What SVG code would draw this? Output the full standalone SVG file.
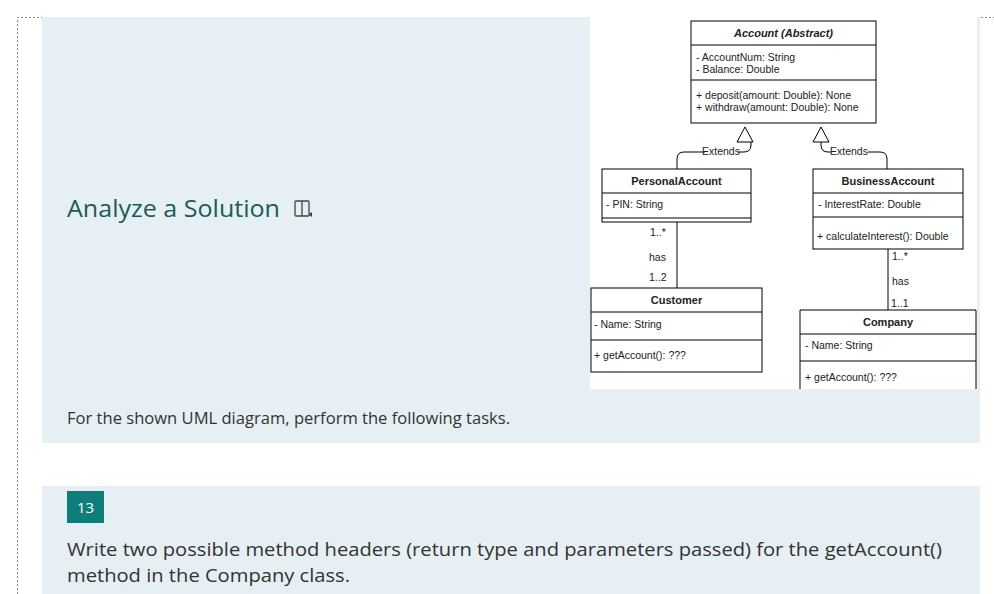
<svg xmlns="http://www.w3.org/2000/svg" width="994" height="594" viewBox="0 0 994 594">
<style>
.b{fill:#fff;stroke:#000;stroke-width:1}
.l{stroke:#000;stroke-width:1;fill:none}
.t{font-family:"Liberation Sans",Arial,sans-serif;font-size:10.5px;fill:#222}
.h{font-family:"Liberation Sans",Arial,sans-serif;font-size:11px;font-weight:bold;fill:#222;text-anchor:middle}
.p{font-family:"Open Sans","Noto Sans",sans-serif}
</style>
<rect width="994" height="594" fill="#fff"/>
<path d="M17.5 594V17.5H994" fill="none" stroke="#888" stroke-dasharray="2,2"/>
<rect x="42" y="17" width="938" height="426" fill="#e6eff3"/>
<rect x="590" y="17" width="387" height="372" fill="#fff"/>
<text x="67" y="217" class="p" font-size="24" fill="#1d5a5c" textLength="213" lengthAdjust="spacingAndGlyphs">Analyze a Solution</text>
<g fill="none" stroke="#444" stroke-width="1.3"><rect x="295" y="201" width="14" height="15" rx="1"/><path d="M302 201v15"/></g>
<path d="M309 214l3-2v5l-3-2z" fill="#444"/>
<text x="67" y="424" class="p" font-size="15.5" fill="#333" textLength="443" lengthAdjust="spacingAndGlyphs">For the shown UML diagram, perform the following tasks.</text>
<rect x="42" y="486" width="938" height="108" fill="#e6eff3"/>
<rect x="67" y="491" width="37" height="32" fill="#0f7e7a"/>
<text x="85.5" y="513" class="p" font-size="15" fill="#fff" text-anchor="middle">13</text>
<text x="67" y="556" class="p" font-size="19" fill="#333" textLength="875" lengthAdjust="spacingAndGlyphs">Write two possible method headers (return type and parameters passed) for the getAccount()</text>
<text x="67" y="582" class="p" font-size="19" fill="#333" textLength="283" lengthAdjust="spacingAndGlyphs">method in the Company class.</text>

<g id="connectors">
<path class="l" d="M677 169v-10q0-7 7-7h60q7 0 7-7v-3"/>
<path class="l" d="M821 142v3q0 7 7 7h52q7 0 7 7v10"/>
<polygon points="745,127 737,142 753,142" class="b"/>
<polygon points="821,127 813,142 829,142" class="b"/>
<rect x="705" y="147" width="33" height="10" fill="#fff"/>
<text x="721" y="155" class="t" font-size="9" text-anchor="middle">Extends</text>
<rect x="831" y="147" width="37" height="10" fill="#fff"/>
<text x="849" y="155" class="t" font-size="9" text-anchor="middle">Extends</text>
<path class="l" d="M677 222v66"/>
<text x="650" y="236" class="t">1..*</text>
<text x="649" y="261" class="t">has</text>
<text x="649" y="281" class="t">1..2</text>
<path class="l" d="M888 249v61"/>
<text x="892" y="260" class="t">1..*</text>
<text x="892" y="285" class="t">has</text>
<text x="891" y="307" class="t">1..1</text>
</g>

<g id="account">
<rect x="691" y="21" width="185" height="102" class="b"/>
<path class="l" d="M691 45h185M691 80h185"/>
<text x="783.5" y="37" class="h" font-style="italic">Account (Abstract)</text>
<text x="696" y="61" class="t">- AccountNum: String</text>
<text x="696" y="73" class="t">- Balance: Double</text>
<text x="696" y="99" class="t">+ deposit(amount: Double): None</text>
<text x="696" y="111" class="t">+ withdraw(amount: Double): None</text>
</g>
<g id="personal">
<rect x="602" y="169" width="149" height="53" class="b"/>
<path class="l" d="M602 193h149M602 218h149"/>
<text x="676.5" y="185" class="h">PersonalAccount</text>
<text x="606" y="208" class="t">- PIN: String</text>
</g>
<g id="business">
<rect x="813" y="169" width="150" height="80" class="b"/>
<path class="l" d="M813 193h150M813 217h150"/>
<text x="888" y="185" class="h">BusinessAccount</text>
<text x="818" y="208" class="t">- InterestRate: Double</text>
<text x="817" y="240" class="t">+ calculateInterest(): Double</text>
</g>
<g id="customer">
<rect x="591" y="288" width="171" height="84" class="b"/>
<path class="l" d="M591 312h171M591 340h171"/>
<text x="676.5" y="304" class="h">Customer</text>
<text x="594" y="328" class="t">- Name: String</text>
<text x="594" y="359" class="t">+ getAccount(): ???</text>
</g>
<g id="company">
<path d="M800 389V310h176v79" class="b"/>
<path class="l" d="M800 334h176M800 361h176"/>
<text x="888" y="326" class="h">Company</text>
<text x="805" y="349" class="t">- Name: String</text>
<text x="805" y="381" class="t">+ getAccount(): ???</text>
</g>
</svg>
